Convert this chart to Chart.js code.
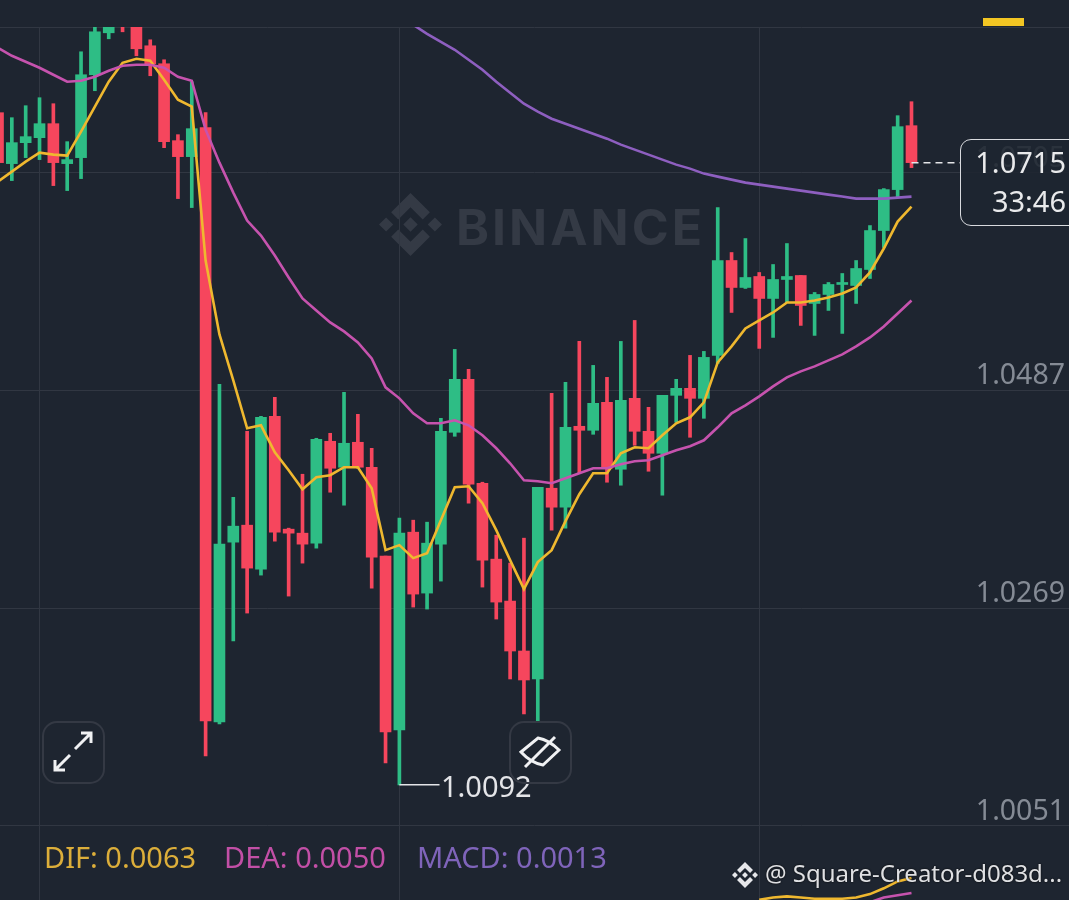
<!DOCTYPE html>
<html>
<head>
<meta charset="utf-8">
<title>MACD</title>
<script src="https://cdn.jsdelivr.net/npm/chart.js@4/dist/chart.umd.min.js"></script>
<style>
  html, body { margin: 0; padding: 0; background: #1e2530; }
  #wrap { position: relative; width: 1069px; height: 900px; overflow: hidden; background: #1e2530; font-family: "Noto Sans", sans-serif; }
  #chart1 { position: absolute; left: 0; top: 0; }
  .txt { position: absolute; white-space: nowrap; line-height: 1; }
  #mark { left: 456px; top: 197px; font: bold 50px Inter, sans-serif; letter-spacing: 3px; color: #343a45; }
  #markLogo { position: absolute; left: 379px; top: 193px; width: 63px; height: 63px; fill: #343a45; }
  #priceBox { position: absolute; left: 960px; top: 139px; width: 120px; height: 85px; border: 1.5px solid #d8dade; border-radius: 11px; background: rgba(30,37,48,.88); }
  #priceNow, #priceTime { right: 3px; font-size: 29px; color: #e9eaec; }
  #priceNow { top: 147px; }
  #priceTime { top: 186px; }
  #lowLabel { left: 441px; top: 771px; font-size: 29px; color: #e4e5e8; }
  .btn { position: absolute; top: 721px; width: 59px; height: 59px; border: 2px solid #343944; border-radius: 15px; }
  #yellowBar { position: absolute; left: 983px; top: 18px; width: 41px; height: 8px; background: #f3c623; }
  .leg { top: 842px; font-size: 29px; }
  #water { left: 765px; top: 861px; font-size: 24px; color: #dfe0e3; text-shadow: 0 0 2px #000; }
  #waterLogo { position: absolute; left: 732px; top: 862px; width: 26px; height: 26px; fill: #e6e7ea; }
</style>
</head>
<body>
<div id="wrap">
  <svg id="markLogo" viewBox="0 0 126.61 126.61"><path d="m38.73 53.2 24.59-24.58 24.6 24.6 14.3-14.31L63.32 0 24.43 38.9zM0 63.31l14.3-14.31 14.31 14.31-14.31 14.3zM38.73 73.41l24.59 24.59 24.6-24.6 14.31 14.29-38.9 38.91-38.91-38.88zM98 63.31l14.3-14.31 14.31 14.3-14.31 14.32zM77.83 63.3 63.32 48.78 48.81 63.28l14.51 14.5z"/></svg>
  <div class="txt" id="mark">BINANCE</div>
  <!-- canvas runs past the window: the y axis keeps some room under its lowest label -->
  <canvas id="chart1" width="1069" height="914"></canvas>
  <div id="yellowBar"></div>
  <div id="priceBox"></div>
  <div class="txt" id="priceNow">1.0715</div>
  <div class="txt" id="priceTime">33:46</div>
  <div class="txt" id="lowLabel">1.0092</div>
  <div class="btn" style="left:42px">
    <svg width="59" height="59" viewBox="0 0 59 59" fill="none" stroke="#f0f1f3" stroke-width="3"><path d="M31 26 47 10M37 10h10v10M26 32 11 47M11 37v10h10"/></svg>
  </div>
  <div class="btn" style="left:509px">
    <svg width="59" height="59" viewBox="0 0 59 59" fill="none" stroke="#f0f1f3" stroke-width="3"><path d="M10 29 27 15Q38 17 48 27L32 42Q20 40 10 29zM44 14 14 44"/></svg>
  </div>
  <div class="txt leg" style="left:44px;color:#dcae3a">DIF: 0.0063</div>
  <div class="txt leg" style="left:224px;color:#c24fa6">DEA: 0.0050</div>
  <div class="txt leg" style="left:417px;color:#7f64ba">MACD: 0.0013</div>
  <svg id="waterLogo" viewBox="0 0 126.61 126.61"><path d="m38.73 53.2 24.59-24.58 24.6 24.6 14.3-14.31L63.32 0 24.43 38.9zM0 63.31l14.3-14.31 14.31 14.31-14.31 14.3zM38.73 73.41l24.59 24.59 24.6-24.6 14.31 14.29-38.9 38.91-38.91-38.88zM98 63.31l14.3-14.31 14.31 14.3-14.31 14.32zM77.83 63.3 63.32 48.78 48.81 63.28l14.51 14.5z"/></svg>
  <div class="txt" id="water">@ Square-Creator-d083d...</div>
</div>

<script>
// candles
var opens = [1.0765,1.0714,1.0735,1.0740,1.0754,1.0714,1.0720,1.0803,1.0845,1.0864,1.0860,1.0832,1.0814,1.0737,1.0721,1.0750,1.0155,1.0335,1.0352,1.0308,1.0461,1.0348,1.0344,1.0334,1.0436,1.0410,1.0435,1.0410,1.0321,1.0147,1.0345,1.0284,1.0333,1.0445,1.0498,1.0394,1.0318,1.0276,1.0226,1.0198,1.0389,1.0370,1.0451,1.0447,1.0475,1.0408,1.0479,1.0446,1.0424,1.0482,1.0489,1.0479,1.0522,1.0617,1.0590,1.0601,1.0579,1.0598,1.0602,1.0574,1.0583,1.0593,1.0592,1.0608,1.0647,1.0688,1.0752];
var closes = [1.0715,1.0735,1.0741,1.0754,1.0715,1.0718,1.0803,1.0846,1.0856,1.0856,1.0829,1.0814,1.0736,1.0721,1.0749,1.0156,1.0333,1.0351,1.0309,1.0460,1.0345,1.0344,1.0333,1.0438,1.0409,1.0434,1.0410,1.0320,1.0145,1.0344,1.0283,1.0334,1.0446,1.0498,1.0393,1.0317,1.0275,1.0226,1.0197,1.0390,1.0370,1.0450,1.0447,1.0474,1.0409,1.0477,1.0446,1.0424,1.0482,1.0489,1.0479,1.0520,1.0617,1.0590,1.0600,1.0579,1.0598,1.0601,1.0572,1.0583,1.0593,1.0595,1.0609,1.0647,1.0688,1.0751,1.0715];
var highs = [1.0788,1.0760,1.0772,1.0780,1.0774,1.0736,1.0826,1.0854,1.0863,1.0868,1.0864,1.0838,1.0818,1.0743,1.0796,1.0765,1.0493,1.0380,1.0446,1.0461,1.0480,1.0349,1.0403,1.0439,1.0444,1.0485,1.0463,1.0429,1.0321,1.0359,1.0357,1.0355,1.0459,1.0528,1.0508,1.0395,1.0342,1.0314,1.0339,1.0390,1.0484,1.0495,1.0536,1.0512,1.0500,1.0536,1.0557,1.0470,1.0482,1.0498,1.0522,1.0526,1.0670,1.0625,1.0639,1.0605,1.0613,1.0634,1.0602,1.0585,1.0595,1.0604,1.0617,1.0652,1.0689,1.0762,1.0776];
var lows = [1.0708,1.0697,1.0720,1.0718,1.0692,1.0687,1.0699,1.0787,1.0839,1.0846,1.0822,1.0802,1.0730,1.0679,1.0670,1.0121,1.0153,1.0236,1.0264,1.0302,1.0336,1.0281,1.0314,1.0329,1.0385,1.0372,1.0409,1.0289,1.0114,1.0092,1.0270,1.0268,1.0296,1.0441,1.0374,1.0290,1.0258,1.0198,1.0163,1.0155,1.0347,1.0349,1.0404,1.0443,1.0395,1.0392,1.0432,1.0406,1.0382,1.0455,1.0440,1.0459,1.0514,1.0565,1.0589,1.0529,1.0540,1.0575,1.0552,1.0542,1.0567,1.0544,1.0574,1.0599,1.0630,1.0680,1.0710];

// moving averages on the price pane
var ma7 = [1.0696,1.0706,1.0716,1.0725,1.0723,1.0722,1.0746,1.0771,1.0796,1.0815,1.0819,1.0817,1.0798,1.0778,1.0771,1.0617,1.0543,1.0497,1.0449,1.0452,1.0425,1.0407,1.0388,1.0400,1.0402,1.0410,1.0410,1.0389,1.0327,1.0332,1.0319,1.0324,1.0357,1.0390,1.0391,1.0374,1.0347,1.0317,1.0288,1.0315,1.0327,1.0356,1.0383,1.0404,1.0404,1.0424,1.0430,1.0429,1.0442,1.0454,1.0460,1.0475,1.0515,1.0531,1.0549,1.0557,1.0565,1.0575,1.0575,1.0577,1.0580,1.0584,1.0590,1.0605,1.0629,1.0656,1.0671];
var ma25 = [1.0830,1.0822,1.0816,1.0810,1.0803,1.0796,1.0797,1.0801,1.0807,1.0812,1.0813,1.0813,1.0810,1.0801,1.0797,1.0748,1.0715,1.0685,1.0657,1.0642,1.0622,1.0600,1.0579,1.0567,1.0555,1.0546,1.0535,1.0519,1.0490,1.0479,1.0464,1.0454,1.0454,1.0457,1.0452,1.0442,1.0429,1.0414,1.0397,1.0396,1.0394,1.0399,1.0404,1.0409,1.0409,1.0413,1.0416,1.0417,1.0422,1.0427,1.0431,1.0437,1.0450,1.0464,1.0472,1.0481,1.0491,1.0500,1.0506,1.0511,1.0517,1.0523,1.0531,1.0540,1.0551,1.0564,1.0577];
var ma99Start = 30;
var ma99 = [1.0853,1.0844,1.0836,1.0828,1.0818,1.0808,1.0796,1.0785,1.0774,1.0766,1.0759,1.0754,1.0749,1.0744,1.0739,1.0733,1.0728,1.0723,1.0718,1.0713,1.0709,1.0704,1.0701,1.0698,1.0695,1.0693,1.0691,1.0689,1.0687,1.0685,1.0683,1.0681,1.0679,1.0679,1.0679,1.0680,1.0681];

// the bit of the MACD pane that shows at the bottom
var difStart = 55;
var difValues = [0.0044,0.0046,0.0047,0.0046,0.0045,0.0045,0.0045,0.0046,0.0049,0.0054,0.0060,0.0063];
var deaStart = 63;
var deaValues = [0.0042,0.0046,0.0048,0.0050];

var priceTicks = [1.0051, 1.0269, 1.0487, 1.0705, 1.08508];
var tickLabels = ["1.0051", "1.0269", "1.0487", "1.0705", ""];
var gridCandles = [3, 29, 55];
var lastPrice = 1.0715;
var lowPrice = 1.0092;

var green = "#2ebd85", red = "#f6465d";

function points(values, start) {
  return values.map(function(v, i) { return { x: i + start, y: v }; });
}

var candleColors = opens.map(function(o, i) { return closes[i] >= o ? green : red; });
var bodies = opens.map(function(o, i) { return { x: i, y: [o, closes[i]] }; });
var wicks = lows.map(function(l, i) { return { x: i, y: [l, highs[i]] }; });

function lineSet(data, color, axis) {
  return {
    type: "line",
    data: data,
    borderColor: color,
    borderWidth: 2.6,
    pointRadius: 0,
    tension: 0,
    yAxisID: axis || "y",
    order: 1,
  };
}

var lastLine = lineSet([{ x: 66, y: lastPrice }, { x: 69.5, y: lastPrice }], "#e4e5e8");
lastLine.borderDash = [7, 5];
lastLine.borderWidth = 1.5;
var lowLine = lineSet([{ x: 29, y: lowPrice }, { x: 31.9, y: lowPrice }], "#e4e5e8");
lowLine.borderWidth = 1.5;

new Chart(document.getElementById("chart1").getContext("2d"), {
  type: "bar",
  data: {
    datasets: [
      { data: wicks, backgroundColor: candleColors, barThickness: 3, grouped: false, order: 3 },
      { data: bodies, backgroundColor: candleColors, barThickness: 11, grouped: false, order: 2 },
      lineSet(points(ma99, ma99Start), "#8e5fc0"),
      lineSet(points(ma25, 0), "#c653ae"),
      lineSet(points(ma7, 0), "#efb82f"),
      lineSet(points(difValues, difStart), "#efb82f", "y2"),
      lineSet(points(deaValues, deaStart), "#c653ae", "y2"),
      lastLine,
      lowLine,
    ],
  },
  options: {
    responsive: false,
    animation: false,
    events: [],
    layout: { padding: { top: 27, left: 0, right: 0, bottom: 0 } },
    plugins: { legend: { display: false }, tooltip: { enabled: false } },
    scales: {
      x: {
        type: "linear",
        min: 0.1445,
        max: 77.38,
        offset: false,
        border: { display: false },
        grid: { color: "#313742", drawTicks: false, offset: false },
        ticks: { display: false },
        afterBuildTicks: function(axis) {
          axis.ticks = gridCandles.map(function(v) { return { value: v }; });
        },
      },
      y: {
        position: "right",
        min: 0.99758,
        max: 1.08508,
        border: { display: false },
        grid: { color: "#313742", drawTicks: false },
        afterBuildTicks: function(axis) {
          axis.ticks = priceTicks.map(function(v) { return { value: v }; });
        },
        ticks: {
          mirror: true,
          padding: -4,
          labelOffset: -14,
          color: "#858b95",
          font: { family: "Noto Sans", size: 28.5 },
          callback: function(value) { return tickLabels[priceTicks.indexOf(value)]; },
        },
      },
      y2: { display: false, min: 0.00431, max: 0.08 },
    },
  },
});
</script>
</body>
</html>
